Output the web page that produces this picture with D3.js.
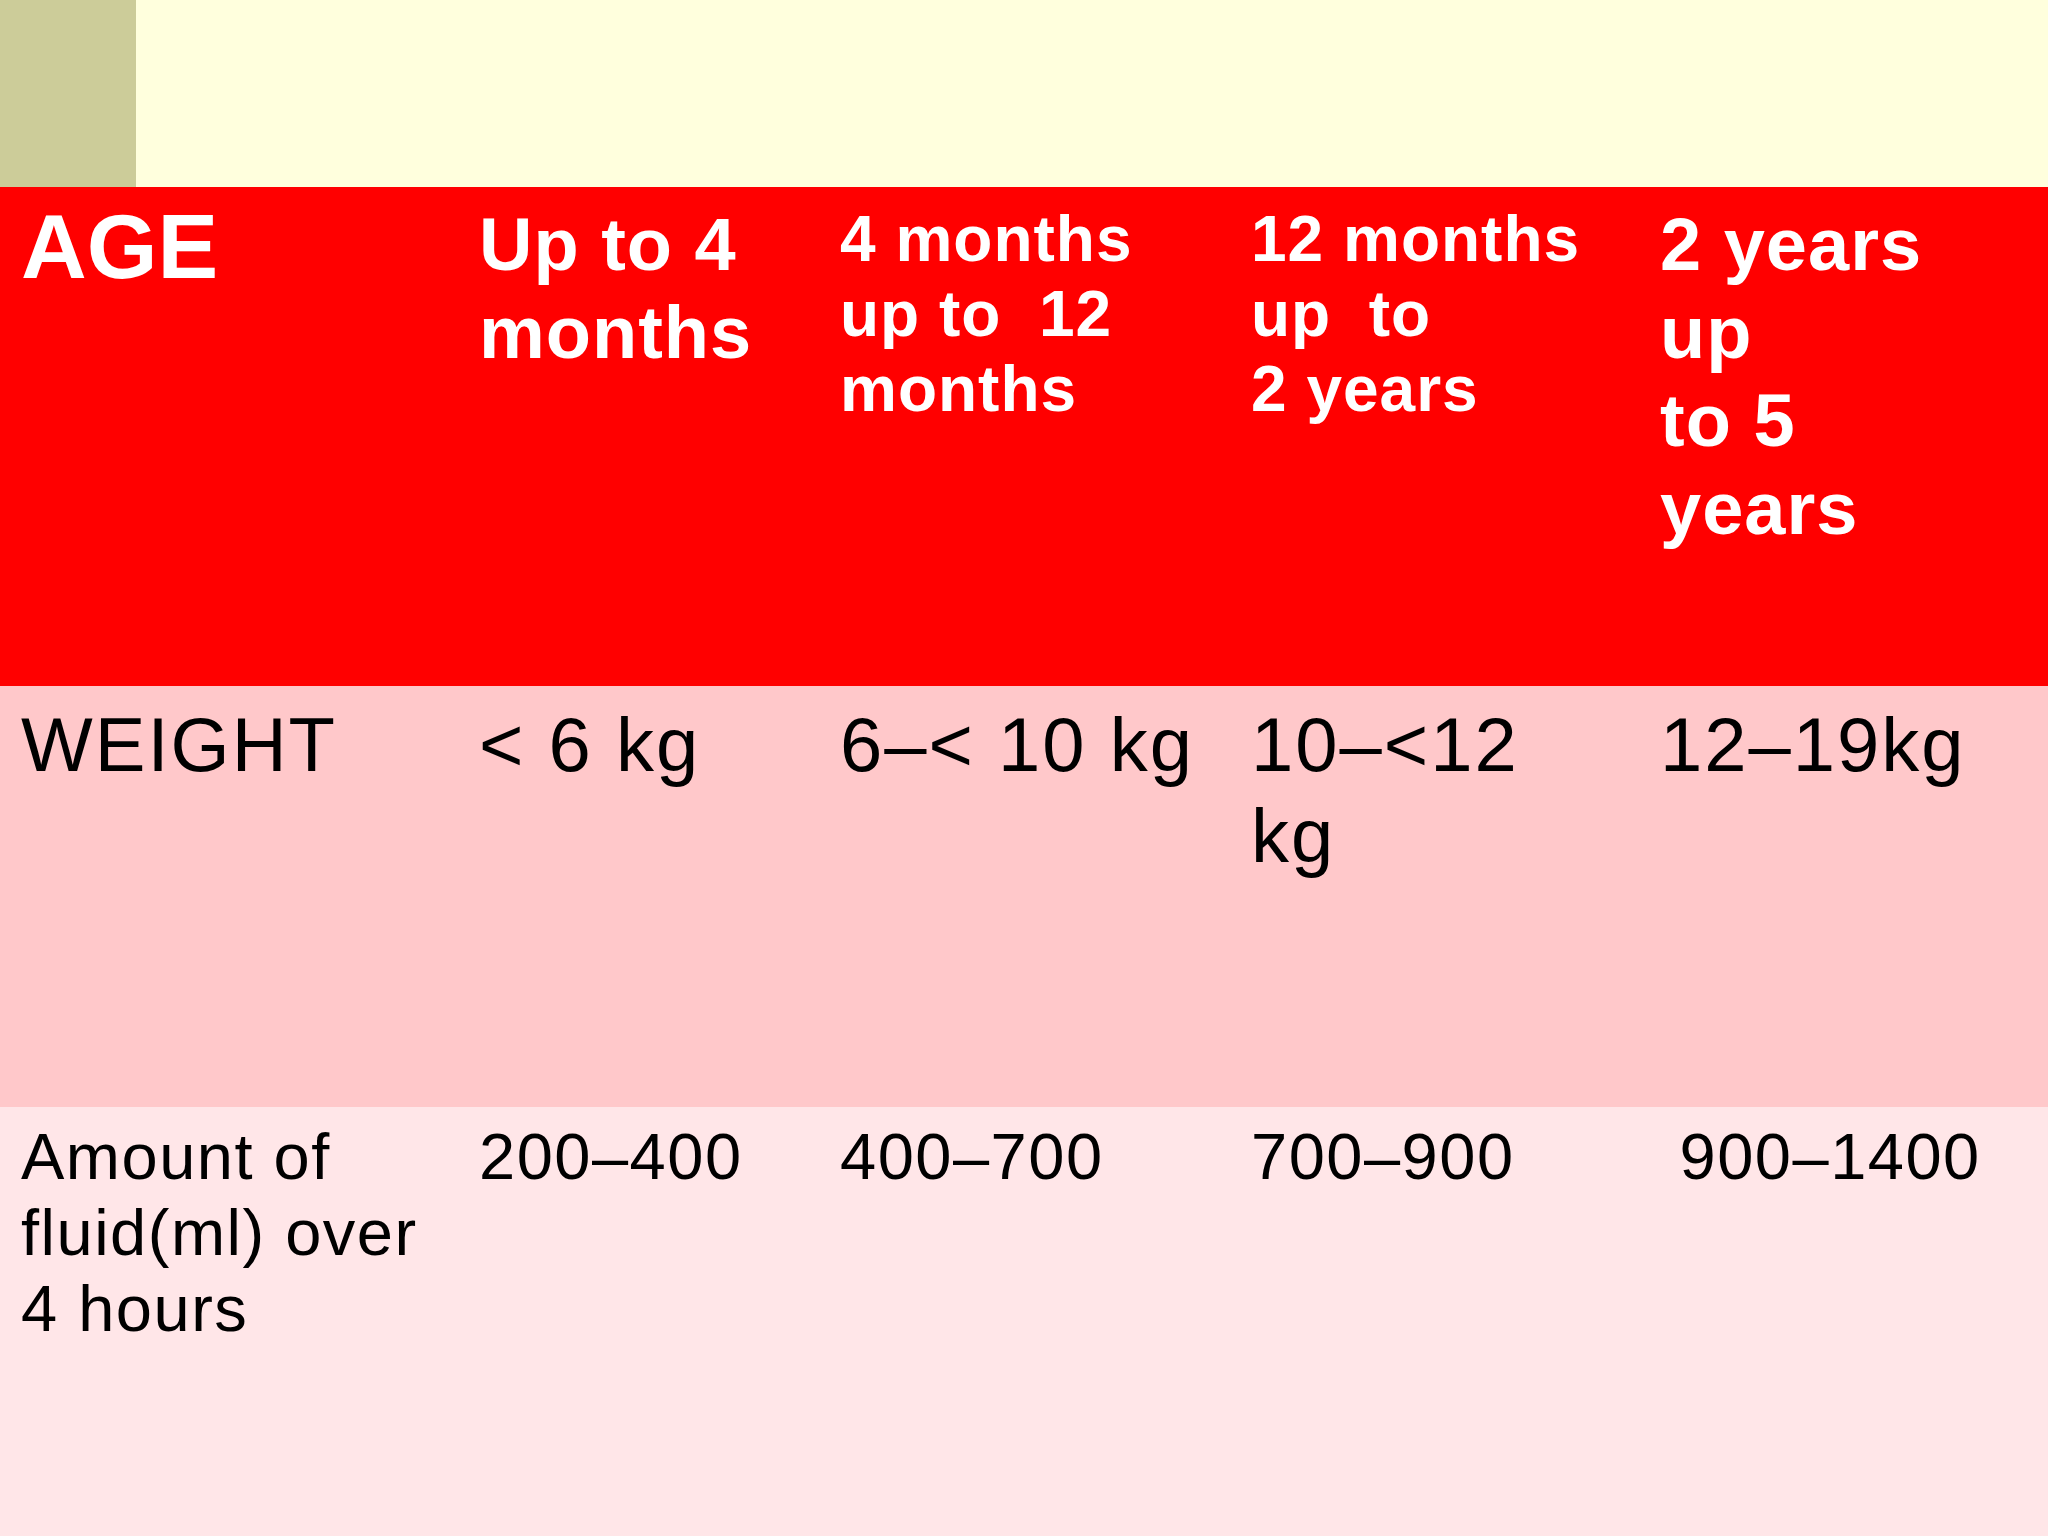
<!DOCTYPE html>
<html><head><meta charset="utf-8">
<script src="https://cdn.jsdelivr.net/npm/d3@7"></script>
<style>body{margin:0;background:#fff}svg{display:block}</style>
</head><body>
<script>
const rowLabels = [["AGE"], ["WEIGHT"], ["Amount of", "fluid(ml) over", "4 hours"]];
const ageGroups = [["Up to 4", "months"], ["4 months", "up to  12", "months"], ["12 months", "up  to", "2 years"], ["2 years", "up", "to 5", "years"]];
const weights = [["< 6 kg"], ["6–< 10 kg"], ["10–<12", "kg"], ["12–19kg"]];
const fluids = [["200–400"], ["400–700"], ["700–900"], [" 900–1400"]];

const W = 2048, H = 1536;
const svg = d3.select("body").append("svg").attr("width", W).attr("height", H);
const rowY = d3.scaleOrdinal().domain(["top","age","weight","fluid","end"]).range([0,187,686,1107,1536]);
const colX = d3.scaleOrdinal().domain([0,1,2,3,4]).range([21,479,840,1251,1660]);

svg.append("rect").attr("x",0).attr("y",0).attr("width",W).attr("height",rowY("age")).attr("fill","#FFFFDD");
svg.append("rect").attr("x",0).attr("y",0).attr("width",136).attr("height",rowY("age")).attr("fill","#CCCC99");
svg.append("rect").attr("x",0).attr("y",rowY("age")).attr("width",W).attr("height",rowY("weight")-rowY("age")).attr("fill","#FF0000");
svg.append("rect").attr("x",0).attr("y",rowY("weight")).attr("width",W).attr("height",rowY("fluid")-rowY("weight")).attr("fill","#FFC8CA");
svg.append("rect").attr("x",0).attr("y",rowY("fluid")).attr("width",W).attr("height",rowY("end")-rowY("fluid")).attr("fill","#FFE6E8");

function block(lines, x, y0, lh, size, bold, color, ls){
  const t = svg.append("text").attr("font-family","Liberation Sans, Arial, sans-serif")
    .attr("font-size",size).attr("font-weight",bold?"bold":"normal").attr("fill",color)
    .attr("letter-spacing",ls||0).attr("xml:space","preserve");
  lines.forEach((l,i)=>t.append("tspan").attr("x",x).attr("y",y0+i*lh).text(l));
}
block(rowLabels[0], colX(0), 278, 0, 91, true, "#fff");
const hdr = [{y:270,lh:88,s:74},{y:261,lh:75,s:64},{y:261,lh:75,s:64},{y:270,lh:88,s:74}];
ageGroups.forEach((g,i)=>block(g, colX(i+1), hdr[i].y, hdr[i].lh, hdr[i].s, true, "#fff", 1));
block(rowLabels[1], colX(0), 771, 91, 76, false, "#000", 2);
weights.forEach((g,i)=>block(g, colX(i+1), 771, 91, 76, false, "#000", 2));
block(rowLabels[2], colX(0), 1179, 76, 65, false, "#000", 1.5);
fluids.forEach((g,i)=>block(g, colX(i+1), 1179, 76, 65, false, "#000", 1.5));
</script>
</body></html>
